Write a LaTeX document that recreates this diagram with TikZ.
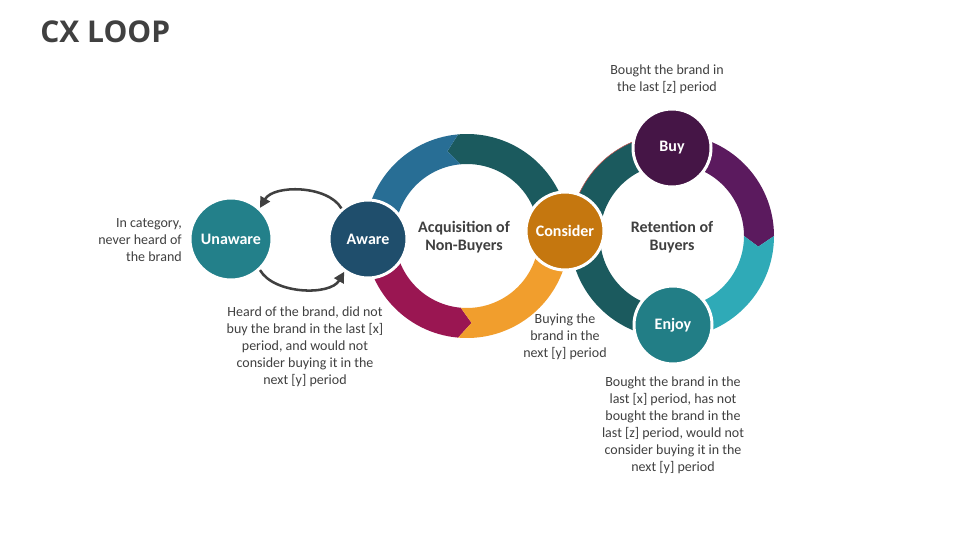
\documentclass[tikz,border=0pt]{standalone}
\usepackage{fontspec}
\setmainfont{Carlito}
\newfontfamily\titlefont{Open Sans}
\usetikzlibrary{arrows.meta}
\definecolor{segblue}{HTML}{286E95}
\definecolor{segteal}{HTML}{1B5A5E}
\definecolor{segmag}{HTML}{9A1652}
\definecolor{segorange}{HTML}{F19E2D}
\definecolor{segpurple}{HTML}{5B1A5E}
\definecolor{segcyan}{HTML}{2FAAB7}
\definecolor{cunaware}{HTML}{23808A}
\definecolor{caware}{HTML}{1F4E6C}
\definecolor{cconsider}{HTML}{C5770F}
\definecolor{cbuy}{HTML}{451546}
\definecolor{cenjoy}{HTML}{227E86}
\definecolor{txtgray}{HTML}{404040}
\definecolor{edgered}{HTML}{C0504D}
% segment: center, start angle, end angle, tip angle at end, notch angle at start, colour
\newcommand\ringseg[6]{%
  \fill[#6,shift={#1}] (#2:102) arc[start angle=#2,end angle=#3,radius=102]
    -- (#4:87) -- (#3:72) arc[start angle=#3,end angle=#2,radius=72]
    -- (#5:87) -- cycle;}
\tikzset{
  stage/.style={circle,draw=white,line width=2.25pt,inner sep=0pt,minimum size=58.5pt,
    text=white,font=\bfseries\fontsize{12}{13}\selectfont},
  note/.style={text=txtgray,align=center,inner sep=0pt,font=\fontsize{10.5}{12.75}\selectfont},
  ringlabel/.style={text=txtgray,align=center,inner sep=0pt,font=\bfseries\fontsize{12}{13.6}\selectfont},
  conn/.style={draw=txtgray,line width=1.9pt,-{Triangle[length=8pt,width=8pt]}}
}
\begin{document}
\begin{tikzpicture}[x=0.75pt,y=0.75pt]
\useasboundingbox[fill=white] (0,0) rectangle (960,540);
% title
\node[anchor=base west,inner sep=0pt,text=txtgray,font=\titlefont\bfseries\fontsize{22.5}{26}\selectfont] (title) at (40,497) {CX LOOP};
% left ring (acquisition)
\ringseg{(467,304)}{0}{95}{103}{0}{segteal}
\ringseg{(467,304)}{95}{180}{180}{103}{segblue}
\ringseg{(467,304)}{180}{265}{273}{180}{segmag}
\ringseg{(467,304)}{265}{360}{360}{273}{segorange}
% right ring (retention)
\ringseg{(672,304)}{180}{90}{90}{180}{segteal}
\ringseg{(672,304)}{90}{0}{-7}{90}{segpurple}
\ringseg{(672,304)}{0}{-90}{-90}{-7}{segcyan}
\ringseg{(672,304)}{270}{180}{180}{270}{segteal}
\draw[edgered,line width=0.4pt,shift={(672,304)}] (156:102) arc[start angle=156,end angle=113,radius=102];
% stages
\node[stage,fill=cunaware,minimum size=61.5pt] (unaware) at (231,301) {Unaware};
\node[stage,fill=caware] (aware) at (368,301) {Aware};
\node[stage,fill=cconsider] (consider) at (565,309) {Consider};
\node[stage,fill=cbuy] (buy) at (672,392) {Buy};
\node[stage,fill=cenjoy] (enjoy) at (673,215) {Enjoy};
% arrows
\draw[conn] (aware.131) to[out=120,in=60,looseness=0.85] (unaware.47);
\draw[conn] (unaware.-47) to[out=-60,in=-120,looseness=0.85] (aware.-126);
% ring labels
\node[ringlabel] (acq) at (464,303) {Acquisition of\\Non-Buyers};
\node[ringlabel] (ret) at (672,303) {Retention of\\Buyers};
% notes
\node[note,align=right,anchor=east] (nunaware) at (182,300) {In category,\\never heard of\\the brand};
\node[note] (naware) at (305,193) {Heard of the brand, did not\\buy the brand in the last [x]\\period, and would not\\consider buying it in the\\next [y] period};
\node[note] (nconsider) at (565,203) {Buying the\\brand in the\\next [y] period};
\node[note] (nbuy) at (667,461) {Bought the brand in\\the last [z] period};
\node[note] (nenjoy) at (673,115) {Bought the brand in the\\last [x] period, has not\\bought the brand in the\\last [z] period, would not\\consider buying it in the\\next [y] period};
\end{tikzpicture}
\end{document}
